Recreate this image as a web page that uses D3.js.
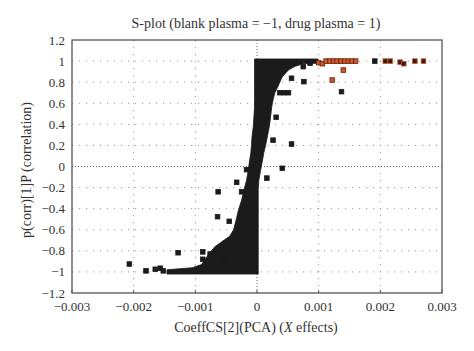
<!DOCTYPE html>
<html>
<head>
<meta charset="utf-8">
<script src="https://cdn.jsdelivr.net/npm/d3@7"></script>
<style>
  body { margin: 0; background: #fff; }
  text { font-family: "Liberation Serif", "DejaVu Serif", serif; fill: #333; }
</style>
</head>
<body>
<div id="chart-area"></div>
<script>
// tick values and labels
var xTicks = [-0.003, -0.002, -0.001, 0, 0.001, 0.002, 0.003];
var xLabels = ["\u22120.003", "\u22120.002", "\u22120.001", "0", "0.001", "0.002", "0.003"];
var yTicks = [1.2, 1, 0.8, 0.6, 0.4, 0.2, 0, -0.2, -0.4, -0.6, -0.8, -1, -1.2];
var yLabels = ["1.2", "1", "0.8", "0.6", "0.4", "0.2", "0", "\u22120.2", "\u22120.4", "\u22120.6", "\u22120.8", "\u22121", "\u22121.2"];

// outline of the dense block of variables (edge)
var massY     = [1.02, 0.98, 0.975, 0.95, 0.92, 0.89, 0.85, 0.80, 0.76, 0.70, 0.63, 0.57, 0.47, 0.38, 0.29, 0.20, 0.13, 0.06, -0.03, -0.13, -0.22, -0.32, -0.41, -0.51, -0.60, -0.66, -0.71, -0.76, -0.82, -0.88, -0.93, -0.96, -0.98, -1.02];
var massLeft  = [-0.00004, -0.00004, -0.00004, -0.00004, -0.00004, -0.00004, -0.00004, -0.00004, -0.00004, -0.00004, -0.00004, -0.00004, -0.00005, -0.00006, -0.00008, -0.00009, -0.0001, -0.00012, -0.00014, -0.00017, -0.00021, -0.00025, -0.0003, -0.00034, -0.00038, -0.00044, -0.00056, -0.00068, -0.00077, -0.00084, -0.0009, -0.00105, -0.00146, -0.00146];
var massRight = [0.00099, 0.00099, 0.00075, 0.00062, 0.00052, 0.00047, 0.00041, 0.00037, 0.00034, 0.00029, 0.00026, 0.00024, 0.00022, 0.0002, 0.00017, 0.00014, 0.00011, 0.00009, 0.00006, 0.00003, 0.00002, 0.00002, 0.00002, 0.00002, 0.00002, 0.00002, 0.00002, 0.00002, 0.00002, 0.00002, 0.00002, 0.00002, 0.00002, 0.00002];

// scattered black variables
var blackX = [0.00075, 0.00076, 0.00086, 0.00137, 0.00031, 0.00056, 0.00026, 0.00037, 0.00044, 0.00051, 0.00056, 0.00026, 0.00191, 0.00060, 0.00041, 0.00016, -0.00017, -0.00033, -0.00025, -0.00063, -0.00064, -0.00045, -0.00128, -0.00088, -0.00088, -0.00076, -0.00057, -0.00055, -0.00052, -0.00207, -0.0018, -0.00165, -0.00157, -0.00152];
var blackY = [0.947, 0.805, 0.98, 0.71, 0.467, 0.213, 0.25, 0.70, 0.70, 0.70, 0.837, 0.75, 1.0, 0.985, -0.017, -0.11, -0.03, -0.15, -0.24, -0.24, -0.476, -0.52, -0.818, -0.81, -0.88, -0.83, -0.84, -0.89, -0.73, -0.925, -0.99, -0.975, -0.965, -0.99];

// highlighted (orange) variables near the top
var orangeX = [0.00100, 0.00106, 0.00112, 0.00118, 0.00124, 0.00130, 0.00136, 0.00142, 0.00148, 0.00154, 0.00160, 0.00140, 0.00122];
var orangeY = [0.985, 0.975, 1.0, 1.0, 1.0, 1.0, 1.0, 1.0, 1.0, 1.0, 1.0, 0.915, 0.82];
var farX = [0.00208, 0.00216, 0.00232, 0.00238, 0.00256, 0.00270];
var farY = [1.0, 1.0, 0.99, 0.975, 1.0, 1.0];

const MARGIN = { LEFT: 72, RIGHT: 32, TOP: 40, BOTTOM: 58 };
const WIDTH = 474 - MARGIN.LEFT - MARGIN.RIGHT;
const HEIGHT = 351 - MARGIN.TOP - MARGIN.BOTTOM;

const svg = d3.select("#chart-area").append("svg")
  .attr("width", 474)
  .attr("height", 351);

const g = svg.append("g")
  .attr("transform", `translate(${MARGIN.LEFT}, ${MARGIN.TOP})`);

var x = d3.scaleLinear().domain([-0.003, 0.003]).range([0, WIDTH]);
var y = d3.scaleLinear().domain([-1.2, 1.2]).range([HEIGHT, 0]);

// dotted grid
g.selectAll(".gy").data(yTicks.filter(d => Math.abs(d) < 1.1)).enter().append("line")
  .attr("x1", 0).attr("x2", WIDTH)
  .attr("y1", d => y(d)).attr("y2", d => y(d))
  .attr("stroke", d => d === 0 ? "#666" : "#999")
  .attr("stroke-width", 1)
  .attr("stroke-dasharray", d => d === 0 ? "1,2" : "1.2,5.8");

g.selectAll(".gx").data(xTicks.filter(d => Math.abs(d) < 0.0025)).enter().append("line")
  .attr("y1", 0).attr("y2", HEIGHT)
  .attr("x1", d => x(d)).attr("x2", d => x(d))
  .attr("stroke", d => d === 0 ? "#666" : "#999")
  .attr("stroke-width", 1)
  .attr("stroke-dasharray", d => d === 0 ? "1,2" : "1.2,5.8");

// dense S-shaped block
var mass = massY.map((v, i) => ({ y: v, l: massLeft[i], r: massRight[i] }));
var area = d3.area()
  .y(d => y(d.y))
  .x0(d => x(d.l))
  .x1(d => x(d.r));
g.append("path")
  .attr("d", area(mass))
  .attr("fill", "#1b1b1b")
  .attr("stroke", "#1b1b1b")
  .attr("stroke-width", 0.8);

var S = 4.6;
function squares(xs, ys, fill, stroke) {
  g.append("g").selectAll("rect").data(xs.map((v, i) => [v, ys[i]])).enter().append("rect")
    .attr("x", d => x(d[0]) - S / 2)
    .attr("y", d => y(d[1]) - S / 2)
    .attr("width", S).attr("height", S)
    .attr("fill", fill)
    .attr("stroke", stroke)
    .attr("stroke-width", 0.8);
}
squares(blackX, blackY, "#1b1b1b", "#1b1b1b");
squares(orangeX, orangeY, "#c9552a", "#6a2410");
squares(farX, farY, "#3c1a10", "#c0552c");

// frame
g.append("rect")
  .attr("width", WIDTH).attr("height", HEIGHT)
  .attr("fill", "none")
  .attr("stroke", "#555")
  .attr("stroke-width", 1.3);

// small inward ticks on the bottom
g.selectAll(".tk").data(xTicks).enter().append("line")
  .attr("x1", d => x(d)).attr("x2", d => x(d))
  .attr("y1", HEIGHT).attr("y2", HEIGHT - 3)
  .attr("stroke", "#555");

// tick labels
g.selectAll(".yl").data(yTicks).enter().append("text")
  .attr("x", -7)
  .attr("y", d => y(d))
  .attr("dy", "0.35em")
  .attr("text-anchor", "end")
  .attr("font-size", 13)
  .text((d, i) => yLabels[i]);

g.selectAll(".xl").data(xTicks).enter().append("text")
  .attr("x", d => x(d))
  .attr("y", HEIGHT + 18)
  .attr("text-anchor", "middle")
  .attr("font-size", 13)
  .text((d, i) => xLabels[i]);

// titles
svg.append("text")
  .attr("x", 256).attr("y", 28)
  .attr("text-anchor", "middle")
  .attr("font-size", 14)
  .text("S-plot (blank plasma = \u22121, drug plasma = 1)");

var xt = svg.append("text")
  .attr("x", 256).attr("y", 332)
  .attr("text-anchor", "middle")
  .attr("font-size", 14);
xt.append("tspan").text("CoeffCS[2](PCA) (");
xt.append("tspan").attr("font-style", "italic").text("X");
xt.append("tspan").text(" effects)");

svg.append("text")
  .attr("transform", "translate(31, 170) rotate(-90)")
  .attr("text-anchor", "middle")
  .attr("font-size", 14)
  .text("p(corr)[1]P (correlation)");
</script>
</body>
</html>
